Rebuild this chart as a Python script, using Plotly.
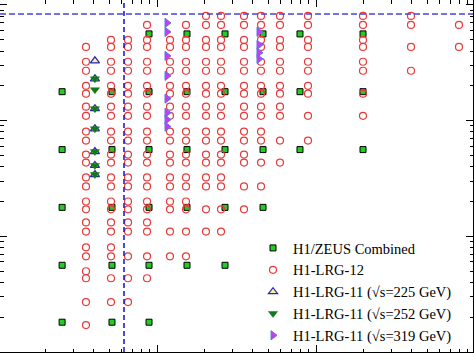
import plotly.graph_objects as go

# ---------------- data ----------------
# H1/ZEUS Combined
zeus_rows = [
    (562, [8.91e-4, 1.544e-3, 2.677e-3, 4.642e-3, 7.93e-3, 1.975e-2]),
    (178, [2.53e-4, 5.21e-4, 8.91e-4, 1.544e-3, 2.677e-3, 4.642e-3, 7.93e-3, 1.975e-2]),
    (56.2, [2.53e-4, 5.21e-4, 8.91e-4, 1.544e-3, 2.677e-3, 4.642e-3, 7.93e-3, 1.975e-2]),
    (17.8, [2.53e-4, 5.21e-4, 8.91e-4, 1.544e-3, 2.677e-3, 4.642e-3]),
    (5.62, [2.53e-4, 5.21e-4, 8.91e-4, 1.544e-3, 2.677e-3]),
    (1.81, [2.53e-4, 5.21e-4, 8.91e-4]),
]

# H1-LRG-12 columns
C = [3.576e-4, 5.137e-4, 6.572e-4, 8.655e-4, 1.207e-3, 1.522e-3, 2.033e-3,
     2.527e-3, 3.525e-3, 4.510e-3, 5.937e-3, 8.905e-3, 1.975e-2, 3.958e-2, 7.930e-2]
lrg12_rows = [
    (804, C[6:14]),
    (672, [C[3]] + C[5:15]),
    (499, C[1:13]),
    (434, C[0:15]),
    (323, C[0:13]),
    (270, C[0:14]),
    (200, C[0:12]),
    (171, C[0:13]),
    (132, C[0:11]),
    (110, C[0:13]),
    (80.4, C[0:10]),
    (67.2, C[0:12]),
    (50.9, C[0:9]),
    (43.4, C[0:11]),
    (32.3, C[0:8]),
    (27.0, C[0:10]),
    (20.0, C[0:6]),
    (17.1, C[0:9]),
    (13.2, C[0:4]),
    (11.0, C[0:8]),
    (8.04, C[0:2]),
    (6.72, C[0:6]),
    (4.99, C[0:1]),
    (4.34, C[0:4]),
    (2.70, C[0:3]),
    (1.71, C[0:1]),
]

# H1-LRG-11 sqrt(s)=225 GeV
lrg225_x = [4.07e-4] * 7
lrg225_y = [329, 230, 127, 85, 54, 41, 34.2]
# H1-LRG-11 sqrt(s)=252 GeV
lrg252_x = [4.07e-4] * 7
lrg252_y = [230, 185, 127, 85, 54, 41, 34.2]
# H1-LRG-11 sqrt(s)=319 GeV
lrg319_x = [1.156e-3] * 8 + [4.38e-3] * 4
lrg319_y = [700, 585, 363, 244, 155, 117, 102, 88.8, 585, 452, 386, 342]

# reference lines
vline_x = 6.2e-4
hline_y = 836


def flatten(rows):
    xs, ys = [], []
    for y, cols in rows:
        for x in cols:
            xs.append(x)
            ys.append(y)
    return xs, ys


zx, zy = flatten(zeus_rows)
rx, ry = flatten(lrg12_rows)

fig = go.Figure()
fig.add_trace(go.Scatter(
    x=zx, y=zy, mode="markers", name="H1/ZEUS Combined",
    marker=dict(symbol="square", size=6, color="#22cc22",
                line=dict(color="black", width=1))))
fig.add_trace(go.Scatter(
    x=rx, y=ry, mode="markers", name="H1-LRG-12",
    marker=dict(symbol="circle-open", size=7, color="#e83a3a",
                line=dict(color="#e83a3a", width=1.2))))
fig.add_trace(go.Scatter(
    x=lrg225_x, y=lrg225_y, mode="markers", name="H1-LRG-11 (√s=225 GeV)",
    marker=dict(symbol="triangle-up", size=8, color="#f4f0a8",
                line=dict(color="#2626b0", width=1.2))))
fig.add_trace(go.Scatter(
    x=lrg252_x, y=lrg252_y, mode="markers", name="H1-LRG-11 (√s=252 GeV)",
    marker=dict(symbol="triangle-down", size=8, color="#137a13",
                line=dict(color="#137a13", width=0.5))))
fig.add_trace(go.Scatter(
    x=lrg319_x, y=lrg319_y, mode="markers", name="H1-LRG-11 (√s=319 GeV)",
    marker=dict(symbol="triangle-right", size=8, color="#c83cf0",
                line=dict(color="#5a7ae0", width=1))))

fig.add_shape(type="line", xref="x", yref="paper", x0=vline_x, x1=vline_x, y0=0, y1=1,
              line=dict(color="#2020cc", width=1.6, dash="5px,3px"))
fig.add_shape(type="line", xref="paper", yref="y", x0=0, x1=1, y0=hline_y, y1=hline_y,
              line=dict(color="#4646d2", width=1.6, dash="6px,3px"))

axis_common = dict(
    type="log", showgrid=False, zeroline=False, showticklabels=False,
    ticks="inside", ticklen=7, tickcolor="black", tickwidth=1,
    showline=True, linecolor="black", linewidth=1, mirror="allticks",
    dtick=1,
    minor=dict(ticks="inside", ticklen=3.5, tickcolor="black", dtick="D1", showgrid=False),
)

fig.update_xaxes(range=[-4 + 2 / 159, -4 + 475 / 159], **axis_common)
fig.update_yaxes(range=[0, 3.043], **axis_common)

fig.update_layout(
    width=474, height=353,
    margin=dict(l=0, r=1, t=0, b=1, autoexpand=False),
    paper_bgcolor="white", plot_bgcolor="white",
    showlegend=True,
    legend=dict(x=253 / 473, xanchor="left", y=0, yanchor="bottom",
                bgcolor="rgba(0,0,0,0)", borderwidth=0,
                font=dict(family="Liberation Serif", size=14.5, color="black"),
                tracegroupgap=0, itemwidth=30),
)

fig.write_html("out.html")
